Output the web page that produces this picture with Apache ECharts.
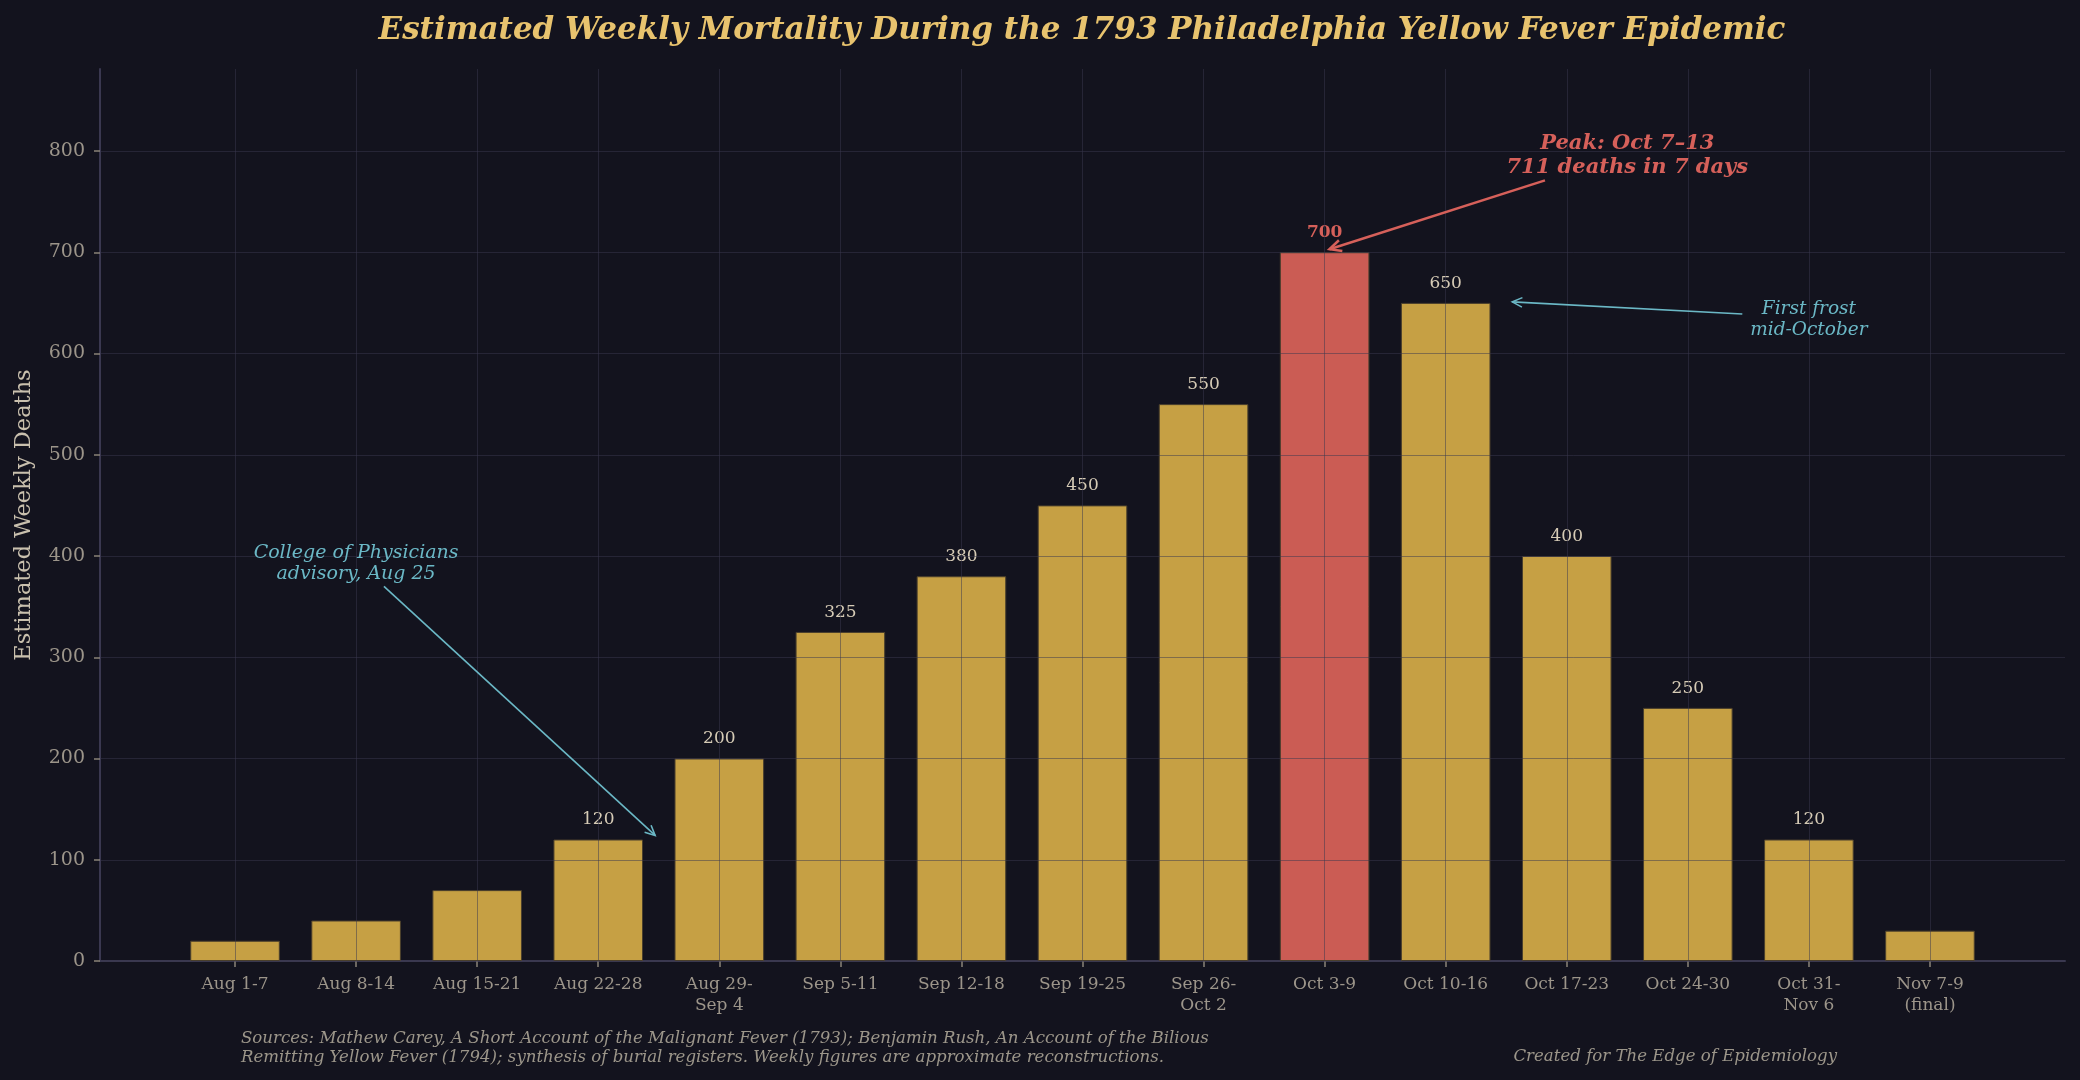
<!DOCTYPE html>
<html>
<head>
<meta charset="utf-8">
<script src="https://cdn.jsdelivr.net/npm/echarts@6/dist/echarts.min.js"></script>
<style>
  html, body { margin: 0; padding: 0; background: #13131e; }
  #container_1 { width: 2080px; height: 1080px; }
</style>
</head>
<body>
<div id="container_1"></div>
<script>
// weekly data
var weeks = ['Aug 1-7', 'Aug 8-14', 'Aug 15-21', 'Aug 22-28', 'Aug 29-\nSep 4', 'Sep 5-11', 'Sep 12-18',
  'Sep 19-25', 'Sep 26-\nOct 2', 'Oct 3-9', 'Oct 10-16', 'Oct 17-23', 'Oct 24-30', 'Oct 31-\nNov 6', 'Nov 7-9\n(final)'];
var deaths = [20, 40, 70, 120, 200, 325, 380, 450, 550, 700, 650, 400, 250, 120, 30];
var labelled = [3, 4, 5, 6, 7, 8, 9, 10, 11, 12, 13]; // bars carrying a value label
var peakIndex = 9;
var yTicks = [0, 100, 200, 300, 400, 500, 600, 700, 800];
var yMax = 881;

var gold = '#C6A044';
var red = '#CB5C54';
var redText = '#D6605A';
var cyan = '#6BB8C6';
var font = 'DejaVu Serif';

var chartDom_1 = document.getElementById('container_1');
var myChart = echarts.init(chartDom_1, null, { renderer: 'canvas' });

var barData = deaths.map(function (v, i) {
  var item = { value: v };
  if (i === peakIndex) {
    item.itemStyle = { color: red };
    item.label = { color: redText, fontWeight: 'bold' };
  }
  if (labelled.indexOf(i) < 0) {
    item.label = { show: false };
  }
  return item;
});

myChart.setOption({
  backgroundColor: '#13131e',
  animation: false,
  grid: [
    { left: 100, right: 15, top: 69, bottom: 119, outerBoundsMode: 'none' },
    { left: 174.5, right: 89.5, top: 69, bottom: 119, outerBoundsMode: 'none' }
  ],
  xAxis: [
    {
      gridIndex: 0, type: 'value', min: 0, max: 1,
      axisLine: { show: true, lineStyle: { color: '#3a3850', width: 2 } },
      axisTick: { show: false }, axisLabel: { show: false }, splitLine: { show: false }
    },
    {
      gridIndex: 1, type: 'category', data: weeks, boundaryGap: true,
      axisLine: { show: false },
      axisTick: { show: true, alignWithLabel: true, length: 6, lineStyle: { color: '#8a8478', width: 1.5 } },
      axisLabel: { interval: 0, margin: 13, color: '#9c958a', fontFamily: font, fontSize: 17, lineHeight: 21 },
      splitLine: { show: false }
    }
  ],
  yAxis: [
    {
      gridIndex: 0, type: 'value', min: 0, max: yMax, interval: 100, z: 3,
      axisLine: { show: true, lineStyle: { color: '#3a3850', width: 2 } },
      axisTick: { show: true, length: 6, lineStyle: { color: '#8a8478', width: 1.5 } },
      axisLabel: {
        margin: 15, color: '#9c958a', fontFamily: font, fontSize: 19, showMaxLabel: false,
        formatter: function (v) { return yTicks.indexOf(v) >= 0 ? String(v) : ''; }
      },
      splitLine: { show: true, showMaxLine: false, lineStyle: { color: 'rgba(58,56,78,0.5)', width: 1 } }
    },
    {
      gridIndex: 1, type: 'value', min: 0, max: yMax, show: false
    }
  ],
  series: [{
    type: 'bar',
    xAxisIndex: 1,
    yAxisIndex: 1,
    data: barData,
    barWidth: '74%',
    itemStyle: { color: gold, borderColor: '#4a3f2c', borderWidth: 1 },
    label: {
      show: true, position: 'top', distance: 11,
      color: '#d6cbb6', fontFamily: font, fontSize: 17
    },
    markLine: {
      silent: true,
      symbol: ['none', 'none'],
      label: { show: false },
      lineStyle: { color: 'rgba(58,56,78,0.5)', type: 'solid', width: 1 },
      data: weeks.map(function (w) { return { xAxis: w }; })
    }
  }]
});

// helpers to place annotations in data units (x in category index)
function px(x) {
  var a = myChart.convertToPixel({ xAxisIndex: 1 }, weeks[0]);
  var b = myChart.convertToPixel({ xAxisIndex: 1 }, weeks[1]);
  return a + x * (b - a);
}
function py(y) {
  return myChart.convertToPixel({ yAxisIndex: 1 }, y);
}

function arrow(from, to, color, width, head) {
  var x1 = px(from[0]), y1 = py(from[1]), x2 = px(to[0]), y2 = py(to[1]);
  var ang = Math.atan2(y2 - y1, x2 - x1);
  var h1 = [x2 - head * Math.cos(ang - 0.45), y2 - head * Math.sin(ang - 0.45)];
  var h2 = [x2 - head * Math.cos(ang + 0.45), y2 - head * Math.sin(ang + 0.45)];
  return [
    { type: 'line', z: 10, shape: { x1: x1, y1: y1, x2: x2, y2: y2 }, style: { stroke: color, lineWidth: width } },
    { type: 'polyline', z: 10, shape: { points: [h1, [x2, y2], h2] }, style: { stroke: color, lineWidth: width, fill: null } }
  ];
}

function note(text, at, color, weight, size, lh) {
  return {
    type: 'text', z: 10, x: px(at[0]), y: py(at[1]),
    style: {
      text: text, fill: color, align: 'center', verticalAlign: 'middle',
      font: 'italic ' + weight + ' ' + size + 'px "' + font + '"', lineHeight: lh
    }
  };
}

var graphics = [
  {
    type: 'text', x: 1082, y: 31,
    style: {
      text: 'Estimated Weekly Mortality During the 1793 Philadelphia Yellow Fever Epidemic',
      fill: '#E8C36E', align: 'center', verticalAlign: 'middle',
      font: 'italic bold 31px "' + font + '"'
    }
  },
  {
    type: 'text', x: 24, y: 515, rotation: Math.PI / 2,
    style: {
      text: 'Estimated Weekly Deaths', fill: '#c9c0ae', align: 'center', verticalAlign: 'middle',
      font: '22.5px "' + font + '"'
    }
  },
  note('Peak: Oct 7\u201313\n711 deaths in 7 days', [11.5, 796], redText, 'bold', 21, 24),
  note('First frost\nmid-October', [13.0, 633], cyan, 'normal', 18.5, 21),
  note('College of Physicians\nadvisory, Aug 25', [1.0, 393], cyan, 'normal', 19, 21),
  {
    type: 'text', x: 241, y: 1048,
    style: {
      text: 'Sources: Mathew Carey, A Short Account of the Malignant Fever (1793); Benjamin Rush, An Account of the Bilious\nRemitting Yellow Fever (1794); synthesis of burial registers. Weekly figures are approximate reconstructions.',
      fill: '#9c968a', align: 'left', verticalAlign: 'middle', lineHeight: 19,
      font: 'italic 16.6px "' + font + '"'
    }
  },
  {
    type: 'text', x: 1837, y: 1057,
    style: {
      text: 'Created for The Edge of Epidemiology', fill: '#9c968a', align: 'right', verticalAlign: 'middle',
      font: 'italic 16.6px "' + font + '"'
    }
  }
];

graphics = graphics
  .concat(arrow([10.82, 771], [9.04, 703], redText, 2.5, 13))
  .concat(arrow([12.45, 639], [10.55, 651], cyan, 1.6, 11))
  .concat(arrow([1.23, 370], [3.47, 124], cyan, 1.6, 11));

myChart.setOption({ graphic: graphics });
</script>
</body>
</html>
